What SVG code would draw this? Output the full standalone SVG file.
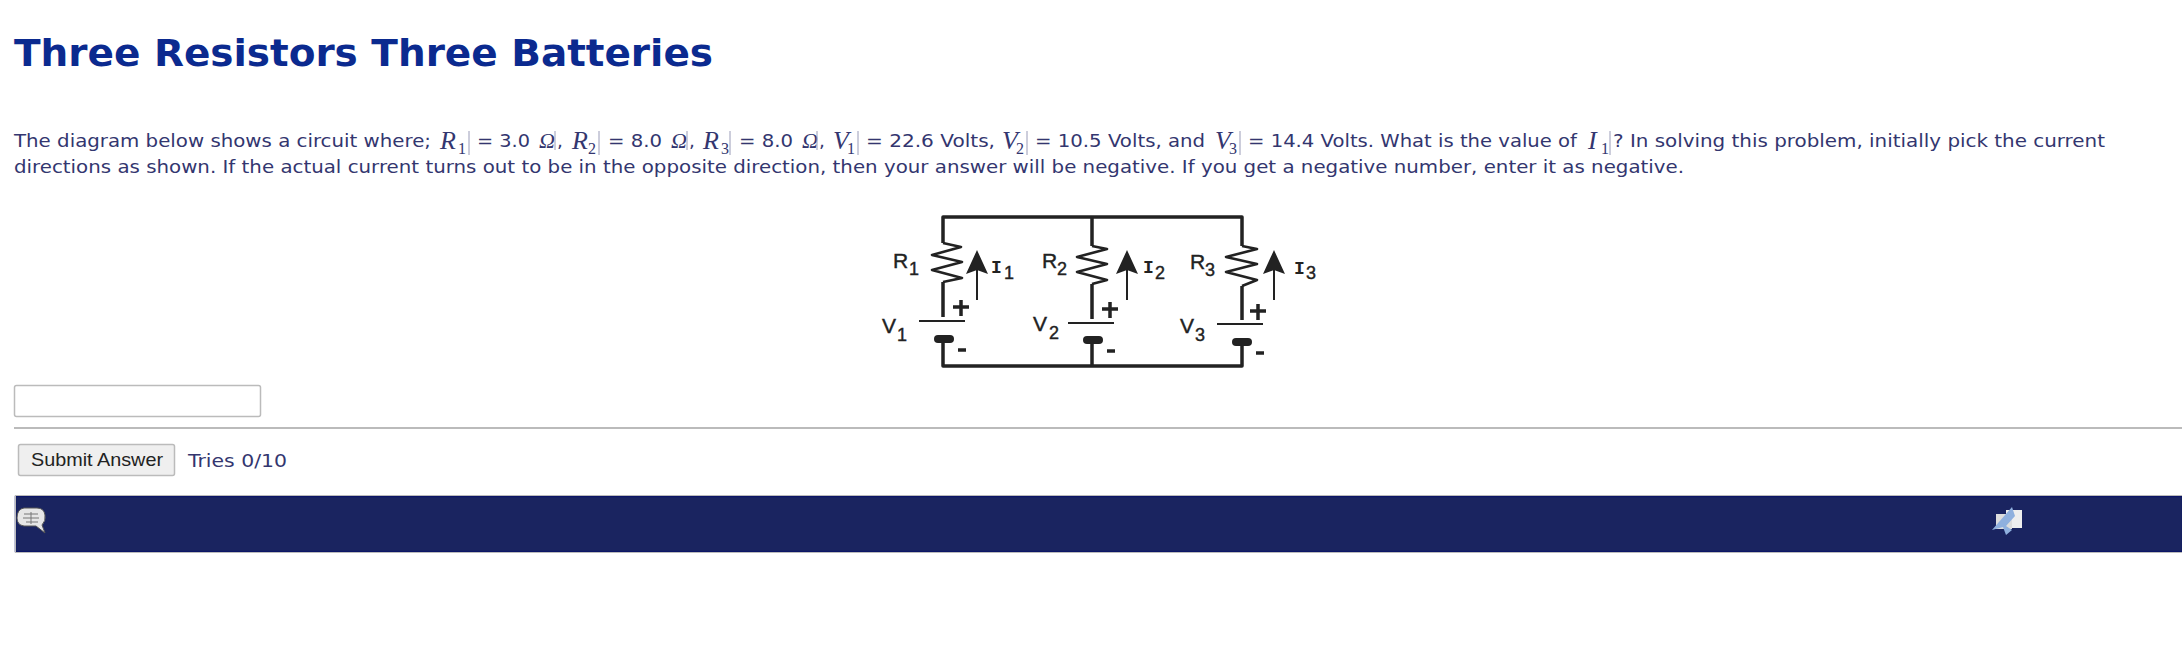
<svg xmlns="http://www.w3.org/2000/svg" width="2182" height="648" viewBox="0 0 2182 648">
<style>
text{font-family:"DejaVu Sans",Verdana,sans-serif}
.t{font-size:18.500px;fill:#33366f}
.m{font-family:"Liberation Serif",serif;font-style:italic;font-size:26px;fill:#33366f}
.o{font-family:"Liberation Serif",serif;font-style:italic;font-size:22px;fill:#33366f}
.s{font-family:"Liberation Serif",serif;font-size:16px;fill:#33366f}
.b{stroke:#9a9cb8;fill:none}
.c{font-family:"Liberation Sans",Arial,sans-serif;font-size:21px;fill:#222;stroke:#222;stroke-width:.4}
.cs{font-family:"Liberation Sans",Arial,sans-serif;font-size:18px;fill:#222;stroke:#222;stroke-width:.4}
.i{font-family:"Liberation Mono",monospace;font-weight:bold;font-size:18px;fill:#222}
.w{fill:none;stroke:#222;stroke-width:3.5;stroke-linejoin:round}
.thin{fill:none;stroke:#222;stroke-width:2}
.z{fill:none;stroke:#222;stroke-width:2.6;stroke-linejoin:round}
.neg{fill:none;stroke:#222;stroke-width:8;stroke-linecap:round}
.pb{fill:none;stroke:#222;stroke-width:3.5}
.bar{fill:#222}
</style>
<rect width="2182" height="648" fill="#fff"/>
<text id="title" x="14" y="66" font-size="38" font-weight="bold" fill="#0b2a8f" textLength="699" lengthAdjust="spacingAndGlyphs">Three Resistors Three Batteries</text>
<g id="question">
<text class="t" x="14" y="147" textLength="417" lengthAdjust="spacingAndGlyphs">The diagram below shows a circuit where;</text>
<text class="m" x="440" y="149">R</text><text class="s" x="458" y="154">1</text><path class="b" d="M469 131V155"/>
<text class="t" x="477" y="147" textLength="53" lengthAdjust="spacingAndGlyphs">= 3.0</text><text class="o" x="539" y="148">Ω</text><path class="b" d="M555 131V150"/><text class="t" x="557" y="147">,</text>
<text class="m" x="572" y="149">R</text><text class="s" x="588" y="154">2</text><path class="b" d="M599 131V155"/>
<text class="t" x="608" y="147" textLength="54" lengthAdjust="spacingAndGlyphs">= 8.0</text><text class="o" x="671" y="148">Ω</text><path class="b" d="M687 131V150"/><text class="t" x="689" y="147">,</text>
<text class="m" x="703" y="149">R</text><text class="s" x="721" y="154">3</text><path class="b" d="M730 131V155"/>
<text class="t" x="739" y="147" textLength="54" lengthAdjust="spacingAndGlyphs">= 8.0</text><text class="o" x="802" y="148">Ω</text><path class="b" d="M817 131V150"/><text class="t" x="819" y="147">,</text>
<text class="m" x="833" y="149">V</text><text class="s" x="847" y="154">1</text><path class="b" d="M858 131V155"/>
<text class="t" x="866" y="147" textLength="129" lengthAdjust="spacingAndGlyphs">= 22.6 Volts,</text>
<text class="m" x="1002" y="149">V</text><text class="s" x="1016" y="154">2</text><path class="b" d="M1027 131V155"/>
<text class="t" x="1035" y="147" textLength="170" lengthAdjust="spacingAndGlyphs">= 10.5 Volts, and</text>
<text class="m" x="1215" y="149">V</text><text class="s" x="1229" y="154">3</text><path class="b" d="M1240 131V155"/>
<text class="t" x="1248" y="147" textLength="329" lengthAdjust="spacingAndGlyphs">= 14.4 Volts. What is the value of</text>
<text class="m" x="1588" y="149">I</text><text class="s" x="1601" y="154">1</text><path class="b" d="M1610 131V155"/>
<text class="t" x="1613" y="147" textLength="492" lengthAdjust="spacingAndGlyphs">? In solving this problem, initially pick the current</text>
<text class="t" x="14" y="173" textLength="1670" lengthAdjust="spacingAndGlyphs">directions as shown. If the actual current turns out to be in the opposite direction, then your answer will be negative. If you get a negative number, enter it as negative.</text>
</g>
<g id="connectors">
<path class="w" d="M943 243V217H1242V246M1092 217V246M943 282V317M1092 284V319M1242 286V320M943 342V366H1242V344M1092 344V366"/>
</g>
<g id="branch1">
<path class="z" d="M943 243L961 247L932 255L962 262L932 270L962 278L943 282"/>
<path class="thin" d="M919 321H965"/><path class="neg" d="M938 339H950"/>
<path class="pb" d="M961 300V316M953 307H969"/><path class="pb" d="M958 350H966"/>
<path class="bar" d="M977 250L966 274L977 270L988 274Z"/><path class="thin" d="M977 270V300"/>
<text class="c" x="893" y="268">R</text><text class="cs" x="909" y="275">1</text>
<text class="c" x="882" y="333">V</text><text class="cs" x="897" y="341">1</text>
<text class="i" x="991" y="273">I</text><text class="cs" x="1004" y="279">1</text>
</g>
<g id="branch2">
<path class="z" d="M1092 246L1107 249L1077 257L1107 264L1077 272L1107 280L1092 284"/>
<path class="thin" d="M1068 323H1114"/><path class="neg" d="M1087 340H1099"/>
<path class="pb" d="M1110 302V318M1102 309H1118"/><path class="pb" d="M1107 351H1115"/>
<path class="bar" d="M1127 250L1116 274L1127 270L1138 274Z"/><path class="thin" d="M1127 270V300"/>
<text class="c" x="1042" y="268">R</text><text class="cs" x="1057" y="275">2</text>
<text class="c" x="1033" y="331">V</text><text class="cs" x="1049" y="339">2</text>
<text class="i" x="1143" y="273">I</text><text class="cs" x="1155" y="279">2</text>
</g>
<g id="branch3">
<path class="z" d="M1242 246L1257 249L1226 257L1257 264L1226 272L1257 280L1242 286"/>
<path class="thin" d="M1217 324H1263"/><path class="neg" d="M1236 342H1248"/>
<path class="pb" d="M1258 304V320M1250 311H1266"/><path class="pb" d="M1256 353H1264"/>
<path class="bar" d="M1274 250L1263 274L1274 270L1285 274Z"/><path class="thin" d="M1274 270V300"/>
<text class="c" x="1190" y="269">R</text><text class="cs" x="1205" y="276">3</text>
<text class="c" x="1180" y="333">V</text><text class="cs" x="1195" y="341">3</text>
<text class="i" x="1294" y="274">I</text><text class="cs" x="1306" y="279">3</text>
</g>
<g id="answer-input"><rect x="14.500" y="385.500" width="246" height="31" rx="2" fill="#fff" stroke="#bbb" stroke-width="1.500"/></g>
<rect id="rule" x="14" y="427" width="2168" height="2" fill="#bbb"/>
<g id="submit"><rect x="18.500" y="444.500" width="156" height="31" rx="2" fill="#efefef" stroke="#bbb" stroke-width="1.500"/>
<text x="31" y="466" font-size="19" textLength="132" lengthAdjust="spacingAndGlyphs" style="font-family:'Liberation Sans',Arial,sans-serif" fill="#222">Submit Answer</text></g>
<text id="tries" class="t" x="188" y="467" textLength="99" lengthAdjust="spacingAndGlyphs">Tries 0/10</text>
<g id="footer"><rect x="15.500" y="496.500" width="2167" height="55" fill="#1a2460" stroke="#0b1566" stroke-width="1.500"/>
<path d="M15 495.500H2182M15 552.500H2182M15.500 496V552" stroke="#bbb" fill="none"/>
<g id="icon-chat"><path d="M24 508Q17 509 17 518Q17 525 24 526H36L45 533L42 525Q46 521 45 515Q44 508 37 508Z" fill="#e6e6e6" stroke="#555"/><path d="M24 514H38M23 518H39M26 522H38M31 512V524" stroke="#777" fill="none"/></g>
<g id="icon-links"><rect x="2006" y="510" width="16" height="18" fill="#eee"/><rect x="1996" y="514" width="16" height="15" fill="#ddd"/><path d="M2012 507L1992 530L2003 527L2006 535L2012 530L2006 526L2015 516Z" fill="#8fb0de"/></g>
</g>
</svg>
